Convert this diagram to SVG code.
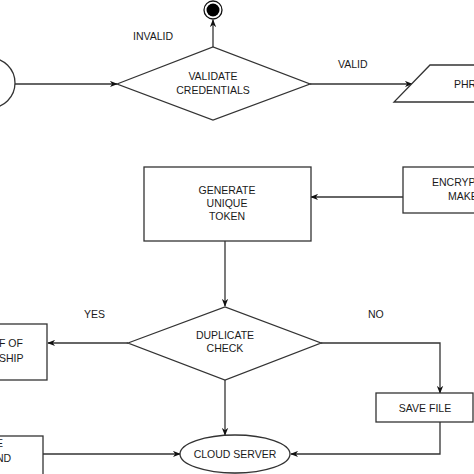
<svg xmlns="http://www.w3.org/2000/svg" width="474" height="474" viewBox="0 0 474 474">
<defs>
<marker id="ah" viewBox="0 0 10 8" refX="9" refY="4" markerWidth="8" markerHeight="7" orient="auto" markerUnits="userSpaceOnUse">
<path d="M0,0 L10,4 L0,8 L3,4 z" fill="#111"/>
</marker>
<radialGradient id="sh" cx="0.5" cy="0.5" r="0.5">
<stop offset="0" stop-color="#444"/>
<stop offset="1" stop-color="#fff" stop-opacity="0"/>
</radialGradient>
<style>
.s{fill:#fff;stroke:#333;stroke-width:1.3}
.c{fill:none;stroke:#333;stroke-width:1.3}
.t{font-family:"Liberation Sans",Arial,sans-serif;font-size:10.5px;fill:#1a1a1a;text-anchor:middle}
.l{font-family:"Liberation Sans",Arial,sans-serif;font-size:10.5px;fill:#1a1a1a}
</style>
</defs>
<rect width="474" height="474" fill="#fff"/>
<g id="connectors">
<line class="c" x1="15" y1="84" x2="117" y2="84" marker-end="url(#ah)"/>
<line class="c" x1="213" y1="47" x2="213" y2="20" marker-end="url(#ah)"/>
<line class="c" x1="310" y1="84" x2="412" y2="84" marker-end="url(#ah)"/>
<line class="c" x1="403" y1="197" x2="311" y2="197" marker-end="url(#ah)"/>
<line class="c" x1="225" y1="241" x2="225" y2="306" marker-end="url(#ah)"/>
<line class="c" x1="128" y1="343" x2="48" y2="343" marker-end="url(#ah)"/>
<polyline class="c" points="321,343 440,343 440,393" marker-end="url(#ah)"/>
<line class="c" x1="225" y1="380" x2="225" y2="435" marker-end="url(#ah)"/>
<line class="c" x1="43" y1="454" x2="180" y2="454" marker-end="url(#ah)"/>
<polyline class="c" points="440,422 440,454 291,454" marker-end="url(#ah)"/>
<text class="l" x="133" y="40">INVALID</text>
<text class="l" x="338" y="68">VALID</text>
<text class="l" x="84" y="318">YES</text>
<text class="l" x="368" y="318">NO</text>
</g>
<g id="start">
<circle class="s" cx="-10" cy="83" r="25"/>
</g>
<g id="end">
<circle cx="213" cy="10" r="9" fill="#fff" stroke="#111" stroke-width="1.3"/>
<circle cx="213" cy="10" r="6.5" fill="#000"/>
</g>
<g id="validate">
<polygon class="s" points="117,84 213,47 310,84 213,120"/>
<text class="t" x="213" y="80">VALIDATE</text>
<text class="t" x="213" y="94">CREDENTIALS</text>
</g>
<g id="phr">
<polygon class="s" points="430,65 480,65 480,102 394,102"/>
<text class="l" x="454" y="88">PHR</text>
</g>
<g id="token">
<rect class="s" x="144" y="167" width="167" height="74"/>
<text class="t" x="227" y="194">GENERATE</text>
<text class="t" x="227" y="207">UNIQUE</text>
<text class="t" x="227" y="220">TOKEN</text>
</g>
<g id="encrypt">
<rect class="s" x="403" y="167" width="80" height="46"/>
<text class="l" x="432" y="186">ENCRYP</text>
<text class="l" x="448" y="200">MAKE</text>
</g>
<g id="duplicate">
<polygon class="s" points="128,343 225,307 321,343 225,380"/>
<text class="t" x="225" y="339">DUPLICATE</text>
<text class="t" x="225" y="352">CHECK</text>
</g>
<g id="proof">
<rect class="s" x="-10" y="324" width="57" height="56"/>
<text class="l" x="-1" y="347">F OF</text>
<text class="l" x="-1" y="362">SHIP</text>
</g>
<g id="save">
<rect class="s" x="376" y="393" width="97" height="29"/>
<text class="t" x="425" y="412">SAVE FILE</text>
</g>
<g id="leftbox">
<rect class="s" x="-10" y="436" width="53" height="50"/>
<text class="l" x="-4" y="447">E</text>
<text class="l" x="-4" y="462">ND</text>
</g>
<g id="cloud">
<ellipse cx="235" cy="476" rx="26" ry="6" fill="url(#sh)"/>
<ellipse class="s" cx="235" cy="454" rx="55" ry="19"/>
<text class="t" x="235" y="458">CLOUD SERVER</text>
</g>
</svg>
